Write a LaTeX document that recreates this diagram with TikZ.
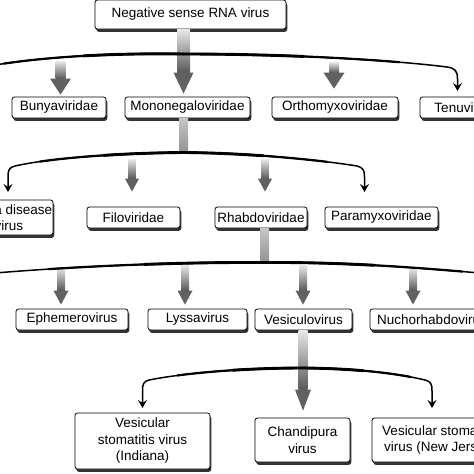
\documentclass[tikz,border=0pt]{standalone}
\usepackage{fontspec}
\setmainfont{Liberation Sans}
\usetikzlibrary{shadows,arrows.meta,calc}
\tikzset{
  vbox/.style={draw=black, line width=0.8pt, rounded corners=2.5pt, fill=white,
    align=center, inner sep=0pt, font=\fontsize{13.5}{16.5}\selectfont,
    drop shadow={shadow xshift=1.3pt, shadow yshift=-2.8pt, fill=black!80, opacity=1}},
  branch/.style={line width=1.5pt, line cap=round, line join=round},
  hook/.style={branch, -{Stealth[length=8pt,width=9pt,inset=3pt]}},
  stem/.style={top color=gray!45, bottom color=gray!85},
}
% gradient block arrow: #1 start, #2 tip, #3 half shaft, #4 half head, #5 head length
\newcommand\garrow[5]{%
  \shade[top color=gray!18, bottom color=gray!70!black] let \p1=(#1), \p2=(#2) in
    (\x1-#3,\y1) rectangle (\x1+#3,\y2+#5);
  \fill[black!62] let \p1=(#1), \p2=(#2) in
    (\x1-#4,\y2+#5) -- (\x1+#4,\y2+#5) -- (\x1,\y2) -- cycle;
}
% brush-like branch line, thicker near its start: #1 style, #2 thick length, #3 path
\newcommand\brush[3]{%
  \draw[#1] #3;
  \draw[line width=2.2pt, line cap=round, dash pattern=on #2*1.8 off 3000pt] #3;
  \draw[line width=2.9pt, line cap=round, dash pattern=on #2 off 3000pt] #3;
}
\begin{document}
\begin{tikzpicture}[x=1pt,y=-1pt]
\useasboundingbox (0,0) rectangle (474,474);
\clip (0,0) rectangle (474,474);

% ---- nodes
\node[vbox, minimum width=191pt, minimum height=29pt] (root) at (190.5,14.5) {Negative sense RNA virus};

\node[vbox, minimum width=94pt,  minimum height=21pt] (bunya) at (59,107.5) {Bunyaviridae};
\node[vbox, minimum width=125pt, minimum height=21pt] (mono)  at (187.5,107.5) {Mononegaloviridae};
\node[vbox, minimum width=126pt, minimum height=21pt] (ortho) at (335,107.5) {Orthomyxoviridae};
\node[vbox, minimum width=98pt,  minimum height=21pt] (tenu)  at (469,107.5) {Tenuviridae};

\node[vbox, minimum width=88pt,  minimum height=35pt] (borna)  at (9,217.5) {Borna disease\\virus};
\node[vbox, minimum width=93pt,  minimum height=21pt] (filo)   at (133.5,217.5) {Filoviridae};
\node[vbox, minimum width=92pt,  minimum height=21pt] (rhabdo) at (261,217.5) {Rhabdoviridae};
\node[vbox, minimum width=113pt, minimum height=21pt] (para)   at (381.5,217.5) {Paramyxoviridae};

\node[vbox, minimum width=112pt, minimum height=21pt] (ephem) at (72,319.5) {Ephemerovirus};
\node[vbox, minimum width=99pt,  minimum height=21pt] (lyssa) at (197.5,319.5) {Lyssavirus};
\node[vbox, minimum width=97pt,  minimum height=21pt] (vesic) at (303.5,319.5) {Vesiculovirus};
\node[vbox, minimum width=124pt, minimum height=21pt] (nucho) at (432,319.5) {Nuchorhabdovirus};

\node[vbox, minimum width=135pt, minimum height=56pt] (indiana) at (142.5,441) {Vesicular\\stomatitis virus\\(Indiana)};
\node[vbox, minimum width=95pt,  minimum height=44pt] (chand)   at (302.5,440) {Chandipura\\virus};
\node[vbox, minimum width=136pt, minimum height=44pt] (newj)    at (440,440) {Vesicular stomatitis\\virus (New Jersey)};

% ---- junction coordinates
\coordinate (c1) at (183.5,54);
\coordinate (c2) at (183.5,152.5);
\coordinate (c3) at (264.5,262.5);
\coordinate (c4) at (303,368);

% ---- level 1 arrows
\garrow{root.south -| c1}{$(mono.north -| c1)+(0,-3)$}{6.5pt}{10pt}{21pt}
\coordinate (b1) at (60.5,61);
\garrow{b1}{$(b1 |- bunya.north)+(0,-2)$}{5pt}{10.5pt}{16pt}
\coordinate (o1) at (334,62);
\garrow{o1}{$(o1 |- ortho.north)+(0,-8)$}{5pt}{10.5pt}{16pt}

% ---- level 2
\shade[stem] let \p1=(mono.south -| c2), \p2=(c2) in (\x1-4.5pt,\y1) rectangle (\x2+4.5pt,\y2);
\coordinate (f1) at (132,159);
\garrow{f1}{$(f1 |- filo.north)+(0,-15)$}{3.8pt}{7pt}{13pt}
\coordinate (r1) at (265,159);
\garrow{r1}{$(r1 |- rhabdo.north)+(0,-15)$}{3.8pt}{7pt}{13pt}

% ---- level 3
\shade[stem] let \p1=(rhabdo.south -| c3), \p2=(c3) in (\x1-4.5pt,\y1) rectangle (\x2+4.5pt,\y2);
\coordinate (e1) at (61,267);
\garrow{e1}{$(e1 |- ephem.north)+(0,-4)$}{4pt}{7.5pt}{14pt}
\coordinate (l1) at (185,265);
\garrow{l1}{$(l1 |- lyssa.north)+(0,-4)$}{4pt}{7.5pt}{14pt}
\coordinate (v1) at (303,265);
\garrow{v1}{$(v1 |- vesic.north)+(0,-4)$}{4pt}{7.5pt}{14pt}
\coordinate (n1) at (413,268);
\garrow{n1}{$(n1 |- nucho.north)+(0,-4)$}{4pt}{7.5pt}{14pt}

% ---- level 4
\garrow{vesic.south -| c4}{$(chand.north -| c4)+(0,-7)$}{4.5pt}{8pt}{21pt}

% ---- branch curves
\brush{branch}{100pt}{(c1) .. controls (120,53) and (50,56) .. (-5,65)}
\brush{hook}{120pt}{(c1) .. controls (300,54) and (400,61) .. (447,67) .. controls (455,68) and (457.5,71) .. (457.5,79) -- (457.5,91)}

\brush{hook}{80pt}{(c2) .. controls (120,153) and (50,158) .. (15,166) .. controls (9,167.5) and (8,170) .. (8,177) -- (8,192)}
\brush{hook}{80pt}{(c2) .. controls (250,153) and (320,160) .. (357,166) .. controls (363,167.5) and (364.5,170) .. (364.5,177) -- (364.5,192)}

\brush{branch}{120pt}{(c3) .. controls (180,262) and (80,266) .. (-5,273)}
\brush{branch}{110pt}{(c3) .. controls (350,262) and (420,268) .. (480,273)}

\brush{hook}{70pt}{(c4) .. controls (250,368) and (190,372) .. (149,380) .. controls (143.5,381.5) and (142.5,384) .. (142.5,391) -- (142.5,408)}
\brush{hook}{60pt}{(c4) .. controls (360,368.5) and (400,374) .. (425,380) .. controls (431,381.5) and (432,384) .. (432,391) -- (432,408)}
\end{tikzpicture}
\end{document}
